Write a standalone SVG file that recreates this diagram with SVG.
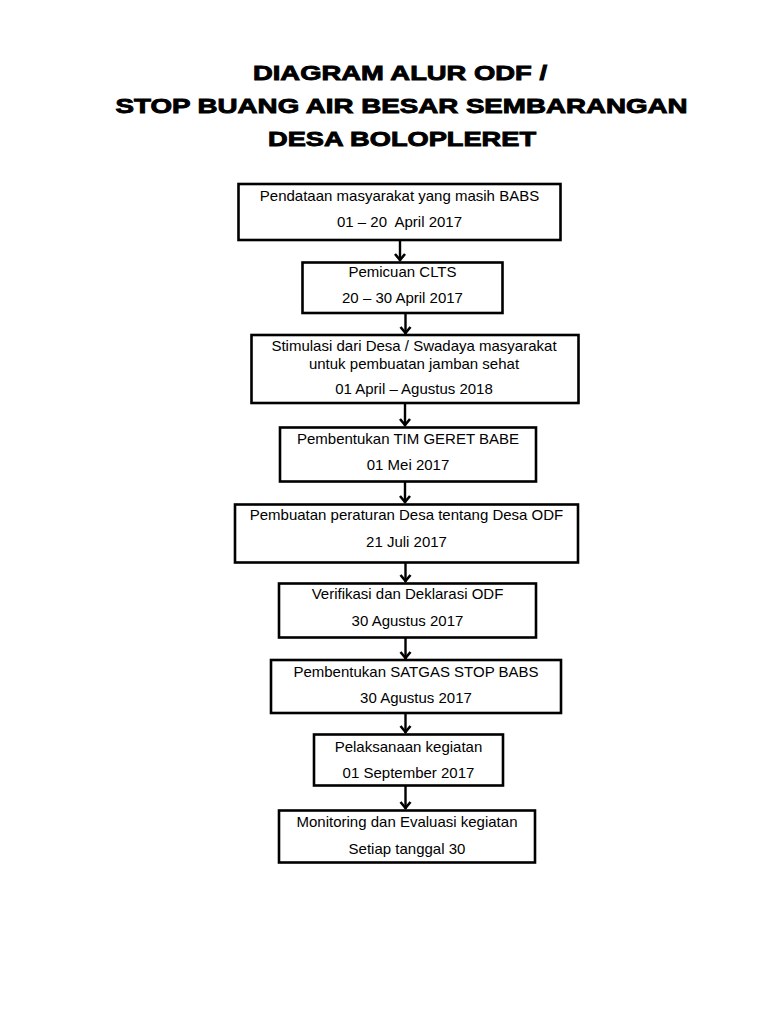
<svg xmlns="http://www.w3.org/2000/svg" width="768" height="1024" viewBox="0 0 768 1024">
<style>
.title{font-family:"Liberation Sans",Arial,sans-serif;font-weight:bold;font-size:21px;fill:#000;stroke:#000;stroke-width:0.9px;text-anchor:middle}
.box{fill:#fff;stroke:#000;stroke-width:2.6}
.t{font-family:"Liberation Sans",Arial,sans-serif;font-size:15px;fill:#000;text-anchor:middle}
.conn line{stroke:#000;stroke-width:2.4}
.conn path{fill:none;stroke:#000;stroke-width:2.6}
</style>
<rect width="768" height="1024" fill="#fff"/>
<g id="title">
<text class="title" x="400" y="80" textLength="294" lengthAdjust="spacingAndGlyphs">DIAGRAM ALUR ODF /</text>
<text class="title" x="401.5" y="113" textLength="572" lengthAdjust="spacingAndGlyphs">STOP BUANG AIR BESAR SEMBARANGAN</text>
<text class="title" x="402" y="146" textLength="268" lengthAdjust="spacingAndGlyphs">DESA BOLOPLERET</text>
</g>
<g id="connectors" class="conn">
<line x1="400" y1="240" x2="400" y2="261"/><path d="M395,254 L400,260 L405,254"/>
<line x1="405.5" y1="313" x2="405.5" y2="334"/><path d="M400.5,327 L405.5,333 L410.5,327"/>
<line x1="405" y1="403" x2="405" y2="426"/><path d="M400,419 L405,425 L410,419"/>
<line x1="405" y1="482" x2="405" y2="503"/><path d="M400,496 L405,502 L410,496"/>
<line x1="405.5" y1="562" x2="405.5" y2="582"/><path d="M400.5,575 L405.5,581 L410.5,575"/>
<line x1="405.5" y1="637" x2="405.5" y2="659"/><path d="M400.5,652 L405.5,658 L410.5,652"/>
<line x1="405.5" y1="713" x2="405.5" y2="733"/><path d="M400.5,726 L405.5,732 L410.5,726"/>
<line x1="405.5" y1="786" x2="405.5" y2="809"/><path d="M400.5,802 L405.5,808 L410.5,802"/>
</g>
<g id="n1"><rect class="box" x="238.5" y="184" width="322" height="56"/>
<text class="t" x="399.5" y="201">Pendataan masyarakat yang masih BABS</text>
<text class="t" x="399.5" y="227" xml:space="preserve">01 – 20  April 2017</text></g>
<g id="n2"><rect class="box" x="302.5" y="262.5" width="200" height="50.5"/>
<text class="t" x="402.5" y="277">Pemicuan CLTS</text>
<text class="t" x="402.5" y="303">20 – 30 April 2017</text></g>
<g id="n3"><rect class="box" x="251.5" y="335" width="327" height="68"/>
<text class="t" x="414" y="351">Stimulasi dari Desa / Swadaya masyarakat</text>
<text class="t" x="414" y="369">untuk pembuatan jamban sehat</text>
<text class="t" x="414" y="394">01 April – Agustus 2018</text></g>
<g id="n4"><rect class="box" x="280" y="427.5" width="256" height="54"/>
<text class="t" x="408" y="444">Pembentukan TIM GERET BABE</text>
<text class="t" x="408" y="470">01 Mei 2017</text></g>
<g id="n5"><rect class="box" x="235" y="504.5" width="343" height="58"/>
<text class="t" x="406.5" y="520">Pembuatan peraturan Desa tentang Desa ODF</text>
<text class="t" x="406.5" y="547">21 Juli 2017</text></g>
<g id="n6"><rect class="box" x="279" y="583.5" width="257" height="54"/>
<text class="t" x="407.5" y="599">Verifikasi dan Deklarasi ODF</text>
<text class="t" x="407.5" y="626">30 Agustus 2017</text></g>
<g id="n7"><rect class="box" x="271" y="660" width="290" height="53"/>
<text class="t" x="416" y="677">Pembentukan SATGAS STOP BABS</text>
<text class="t" x="416" y="703">30 Agustus 2017</text></g>
<g id="n8"><rect class="box" x="314" y="734.5" width="189" height="51"/>
<text class="t" x="408.5" y="752">Pelaksanaan kegiatan</text>
<text class="t" x="408.5" y="778">01 September 2017</text></g>
<g id="n9"><rect class="box" x="279" y="810.5" width="256" height="52"/>
<text class="t" x="407" y="827">Monitoring dan Evaluasi kegiatan</text>
<text class="t" x="407" y="854">Setiap tanggal 30</text></g>
</svg>
